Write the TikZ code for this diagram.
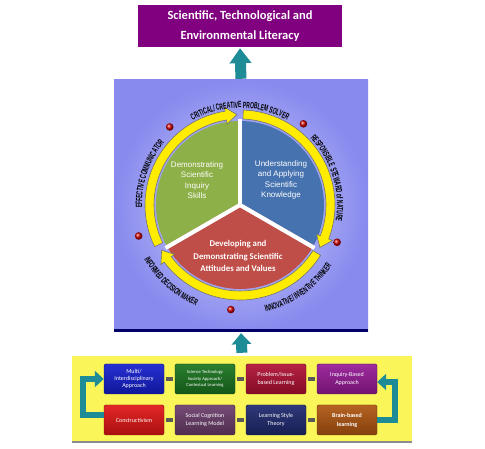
\documentclass[tikz,border=0pt]{standalone}
\usepackage{fontspec}
\setmainfont{Carlito}
\newfontfamily\arialfont{Liberation Sans}
\newfontfamily\lblfont[FakeStretch=0.55,UprightFont={* Bold}]{Liberation Sans}
\usetikzlibrary{arrows.meta,decorations.text,shadows}

\definecolor{titlepurple}{RGB}{128,0,128}
\definecolor{arrowteal}{RGB}{30,140,150}
\definecolor{panelout}{RGB}{136,138,238}
\definecolor{panelin}{RGB}{210,214,250}
\definecolor{bandyellow}{RGB}{250,246,90}
\definecolor{ringyellow}{RGB}{255,236,0}
\definecolor{sectgreen}{RGB}{142,176,72}
\definecolor{sectblue}{RGB}{70,115,175}
\definecolor{sectred}{RGB}{192,78,72}
\definecolor{boxblue}{RGB}{20,30,205}
\definecolor{boxgreen}{RGB}{25,115,30}
\definecolor{boxcrimson}{RGB}{175,15,50}
\definecolor{boxmagenta}{RGB}{150,25,150}
\definecolor{boxred}{RGB}{225,20,20}
\definecolor{boxplum}{RGB}{105,60,105}
\definecolor{boxnavy}{RGB}{30,40,110}
\definecolor{boxbrown}{RGB}{175,85,15}

% one yellow arc of the ring, clockwise from #1 to the tip at #2
\newcommand{\ringarc}[2]{%
  \filldraw[ringarrow] (#1:95) arc[start angle=#1, end angle=#2+7, radius=95]
    -- (#2+7:99) -- (#2:90.5) -- (#2+7:82) -- (#2+7:86)
    arc[start angle=#2+7, end angle=#1, radius=86] -- cycle;}

\begin{document}
\begin{tikzpicture}[x=1pt,y=1pt]

\tikzset{
  approach/.style={draw=#1!60!black, top color=#1!92!white, bottom color=#1!75!black,
    rounded corners=1.5pt, minimum width=60pt, minimum height=30pt, inner sep=1pt,
    align=center, text=white, font=\fontsize{6}{7.3}\selectfont},
  link/.style={line width=4pt, draw=black!65, shorten <=2pt, shorten >=2pt},
  blockarrow/.style={draw=arrowteal, line width=11pt},
  looparrow/.style={draw=arrowteal, line width=6pt, line join=miter,
    -{Triangle[width=16pt,length=9pt]}},
  ringarrow/.style={fill=ringyellow, draw=black!55, line width=0.6pt},
  ringlabel/.style={decorate, decoration={text along path, text align=center,
    text={|\lblfont\fontsize{9}{9}\selectfont|#1}}},
  sectortext/.style={text=white, align=center, font=\arialfont\fontsize{8}{10.5}\selectfont}
}
  \useasboundingbox (0,0) rectangle (485,449);

  \node[fill=titlepurple, text=white, align=center, minimum width=204pt, minimum height=42pt,
    font=\bfseries\fontsize{12.5}{20}\selectfont] (title) at (240,423)
    {Scientific, Technological and\\Environmental Literacy};

  \node[inner color=panelin, outer color=panelout, minimum width=254pt, minimum height=252pt]
    (panel) at (241,243) {};
  \fill[black!60!blue] (panel.south west) rectangle ([yshift=3pt]panel.south east);

  \node[fill=bandyellow, minimum width=340pt, minimum height=85pt] (band) at (242,50.5) {};
  \draw[black!45, line width=2pt] ([yshift=-1pt]band.south west) -- ([yshift=-1pt]band.south east);

  \draw[blockarrow, -{Triangle[width=21pt,length=15pt]}, shorten >=1pt, shorten <=1pt]
    (panel.north) -- (title.south);
  \draw[blockarrow, -{Triangle[width=19pt,length=11pt]}, shorten >=1pt, shorten <=3pt]
    (band.north) -- (panel.south);

  % the wheel
  \coordinate (c) at (240,244);
  \fill[sectgreen, drop shadow={shadow xshift=1.5pt, shadow yshift=-1.5pt, opacity=0.6}]
    (c) -- ++(90:84) arc[start angle=90, end angle=210, radius=84] -- cycle;
  \fill[sectblue, drop shadow={shadow xshift=-1.5pt, shadow yshift=-1.5pt, opacity=0.6}]
    (c) -- ++(90:84) arc[start angle=90, end angle=-30, radius=84] -- cycle;
  \fill[sectred] (c) -- ++(210:84) arc[start angle=210, end angle=330, radius=84] -- cycle;
  \draw[sectred!45!white, line width=4pt] (c) ++(210:84) -- (c) -- ++(330:84);
  \foreach \a in {90,210,330}
    \draw[white, line width=4pt] (c) -- ++(\a:86);

  \begin{scope}[shift={(c)}]
    \ringarc{206}{92}
    \ringarc{88}{-28}
    \ringarc{328}{210}
    \foreach \a/\r in {132/105, 52/103, 197/106, -21/104, 265/105}
      \shade[ball color=red!80!black] (\a:\r) circle (3.8);
    \path[ringlabel={CRITICAL/ CREATIVE PROBLEM SOLVER}]
      (130:97) arc[start angle=130, end angle=50, radius=97];
    \path[ringlabel={RESPONSIBLE STEWARD of NATURE}]
      (55:97) arc[start angle=55, end angle=-21, radius=97];
    \path[ringlabel={EFFECTIVE COMMUNICATOR}]
      (200:98) arc[start angle=200, end angle=122, radius=98];
    \path[ringlabel={INFORMED DECISION MAKER}]
      (196:110) arc[start angle=196, end angle=260, radius=110];
    \path[ringlabel={INNOVATIVE/ INVENTIVE THINKER}]
      (270:110) arc[start angle=270, end angle=340, radius=110];
  \end{scope}

  \node[sectortext] (skills) at (197,269) {Demonstrating\\Scientific\\Inquiry\\Skills};
  \node[sectortext] (knowledge) at (281,269) {Understanding\\and Applying\\Scientific\\Knowledge};
  \node[text=white, align=center, font=\bfseries\fontsize{8.8}{12.5}\selectfont] (values)
    at (238,193) {Developing and\\Demonstrating Scientific\\Attitudes and Values};

  % approaches
  \node[approach=boxblue] (multi) at (134,70) {Multi/\\Interdisciplinary\\Approach};
  \node[approach=boxgreen, font=\fontsize{4.6}{6.5}\selectfont] (sts) at (205,70)
    {Science Technology\\Society Approach/\\Contextual Learning};
  \node[approach=boxcrimson] (pbl) at (276,70) {Problem/Issue-\\based Learning};
  \node[approach=boxmagenta] (ibl) at (347,70) {Inquiry-Based\\Approach};

  \node[approach=boxred] (constr) at (134,29) {Constructivism};
  \node[approach=boxplum] (social) at (205,29) {Social Cognition\\Learning Model};
  \node[approach=boxnavy] (lstyle) at (276,29) {Learning Style\\Theory};
  \node[approach=boxbrown, font=\bfseries\fontsize{6}{9}\selectfont] (brain) at (347,29)
    {Brain-based\\learning};

  \draw[link] (multi) -- (sts);
  \draw[link] (sts) -- (pbl);
  \draw[link] (pbl) -- (ibl);
  \draw[link] (constr) -- (social);
  \draw[link] (social) -- (lstyle);
  \draw[link] (lstyle) -- (brain);

  \draw[looparrow] ([yshift=5pt]constr.west) -- ++(-21,0) |- (multi.west);
  \draw[looparrow] (brain.east) -- ++(18,0) |- ([yshift=-3pt]ibl.east);

\end{tikzpicture}
\end{document}
